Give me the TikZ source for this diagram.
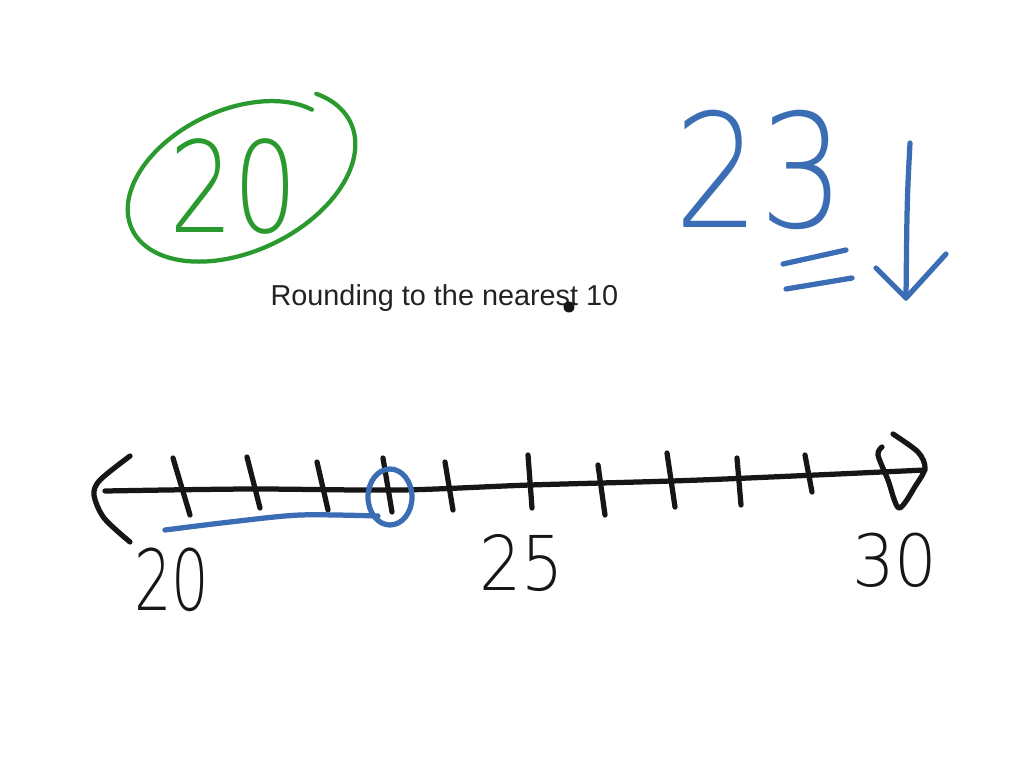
\documentclass[tikz,border=0pt]{standalone}
\usepackage{fontspec}
\setmainfont{Liberation Sans}
\newfontfamily\handfont{DejaVu Sans ExtraLight}
\usepackage{xcolor}
\definecolor{penblack}{HTML}{161616}
\definecolor{penblue}{HTML}{3A6DB4}
\definecolor{pengreen}{HTML}{2B9A2E}
\definecolor{typegray}{HTML}{222222}
\tikzset{
	every hand/.style={inner sep=0pt,font=\handfont},
	pen/.style={line width=0.105cm,line cap=round,line join=round}
	}

\begin{document}
\begin{tikzpicture}[x=0.02cm,y=-0.02cm]
		% \draw[help lines] (0,0) grid[step=100] (1024,768);
		\path[use as bounding box] (0,0) rectangle (1024,768);
		\tikzstyle{every path}=[pen,draw=penblack]

		%% Title
		\draw (268,305) node [anchor=base west,inner sep=0pt,text=typegray,font=\fontsize{16.4}{20}\selectfont] (title) {Rounding to the nearest 10};
		\fill[penblack] (569,307) circle (3);

		%% Circled twenty
		\draw (234,186) node [every hand,text=pengreen,font=\handfont\fontsize{72}{72}\selectfont,xscale=0.8] (circ20) {20};
		\draw[draw=pengreen,line width=0.085cm,shift={(237,178)},rotate=25] plot[smooth,domain=-33:333,samples=90,variable=\t] ({(1.05-0.16*(\t+33)/366)*122*cos(\t)},{(1.05-0.16*(\t+33)/366)*75*sin(\t)});

		%% Twenty-three, rounded down
		\draw (760,170) node [every hand,text=penblue,font=\handfont\fontsize{90}{90}\selectfont,xscale=0.85] (n23) {23};
		\draw[draw=penblue] (783,264) -- (846,250);
		\draw[draw=penblue] (786,289) -- (852,278);
		\draw[draw=penblue] (910,143) .. controls (907,200) .. (906,298);
		\draw[draw=penblue] (876,268) -- (906,298) -- (946,254);

		%% Number line
		\draw plot[smooth] coordinates {(105,491) (250,489) (400,490) (530,485) (700,480) (925,470)};
		\draw plot[smooth] coordinates {(130,456) (100,480) (94,495) (104,518) (130,542)};
		\draw plot[smooth] coordinates {(882,447) (878,455) (888,480) (899,508) (916,485) (925,468) (918,452) (893,434)};
		\foreach \xa/\ya/\xb/\yb in {173/458/190/515, 247/457/260/508, 317/462/328/510, 383/458/392/512, 445/462/453/510, 528/455/532/508, 598/465/605/515, 667/453/675/507, 737/458/741/505, 805/455/812/492}
			\draw (\xa,\ya) -- (\xb,\yb);

		%% Jump from 20 to 23
		\draw[draw=penblue] plot[smooth] coordinates {(165,530) (230,522) (300,515) (378,516)};
		\draw[draw=penblue] (390,497) ellipse [x radius=22,y radius=28];

		%% Labels
		\draw (172,580) node [every hand,text=penblack,font=\handfont\fontsize{48}{48}\selectfont,xscale=0.7] (lab20) {20};
		\draw (522,563) node [every hand,text=penblack,font=\handfont\fontsize{43}{43}\selectfont,xscale=0.88] (lab25) {25};
		\draw (895,560) node [every hand,text=penblack,font=\handfont\fontsize{41}{41}\selectfont,xscale=0.93] (lab30) {30};

	\end{tikzpicture}
\end{document}
